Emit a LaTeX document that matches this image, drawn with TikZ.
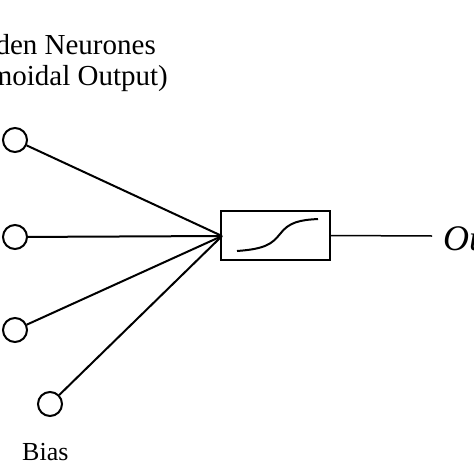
\documentclass[tikz,border=0pt]{standalone}
\usepackage{fontspec}
\setmainfont{Liberation Serif}
\begin{document}
\begin{tikzpicture}[x=1pt,y=-1pt,
  inp/.style={draw,circle,minimum size=24pt,inner sep=0pt,line width=2pt},
  sigbox/.style={draw,rectangle,minimum width=109pt,minimum height=49pt,inner sep=0pt,line width=2pt},
  conn/.style={line width=2pt},
  lbl/.style={inner sep=0pt,font=\fontsize{29}{33}\selectfont}]
\useasboundingbox (0,0) rectangle (474,474);
\node[lbl,anchor=base east] (t1) at (156,54) {Hidden Neurones};
\node[lbl,anchor=base east] (t2) at (168,85) {(Sigmoidal Output)};
\node[inp] (i1) at (15,140) {};
\node[inp] (i2) at (15,237) {};
\node[inp] (i3) at (15,330) {};
\node[inp] (b) at (50,404) {};
\node[lbl,anchor=base west,font=\fontsize{26}{30}\selectfont] (bl) at (22,460) {Bias};
\node[sigbox] (box) at (275.5,235.5) {};
\coordinate (c) at (222,236);
\draw[conn] (i1) -- (c);
\draw[conn] (i2) -- (c);
\draw[conn] (i3) -- (c);
\draw[conn] (b) -- (c);
\draw[conn] (237,251) .. controls (265,249) and (272,244) .. (280,234) .. controls (289,222) and (300,220) .. (318,219);
\coordinate (oe) at (432,236);
\draw[conn,line width=1.5pt] (box.east) -- (oe);
\node[anchor=base west,inner sep=0pt,font=\fontsize{36}{40}\selectfont\itshape] (out) at (443,250) {Output};
\end{tikzpicture}
\end{document}
